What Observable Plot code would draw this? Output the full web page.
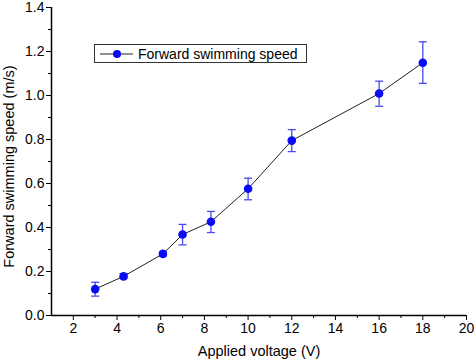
<!DOCTYPE html>
<html><head><meta charset="utf-8">
<script src="https://cdn.jsdelivr.net/npm/d3@7"></script>
<script src="https://cdn.jsdelivr.net/npm/@observablehq/plot@0.6"></script>
<style>
body{margin:0;background:#fff;font-family:"Liberation Sans",Arial,sans-serif}
#chart{position:relative;width:474px;height:361px}
#legend{position:absolute;left:94px;top:44px;width:211px;height:17px;border:1px solid #333;background:#fff;display:flex;align-items:center;font-size:14px;color:#000}
#legend svg{display:block;margin-left:5px;margin-right:4px}
</style>
</head><body><div id="chart"></div>
<script>
const voltage = [3, 4.3, 6.1, 7, 8.3, 10, 12, 16, 18];
const speed   = [0.12, 0.178, 0.28, 0.368, 0.426, 0.576, 0.795, 1.009, 1.149];
const errLow  = [0.088, 0.168, 0.27, 0.321, 0.377, 0.526, 0.745, 0.951, 1.055];
const errHigh = [0.151, 0.19, 0.29, 0.414, 0.473, 0.624, 0.845, 1.065, 1.244];
const xTicks = [2, 4, 6, 8, 10, 12, 14, 16, 18, 20];
const xMinor = [3, 5, 7, 9, 11, 13, 15, 17, 19];
const yTicks = [0, 0.2, 0.4, 0.6, 0.8, 1.0, 1.2, 1.4];
const yMinor = [0.1, 0.3, 0.5, 0.7, 0.9, 1.1, 1.3];
const legendLabel = "Forward swimming speed";

const data = voltage.map((v, i) => ({x: v, y: speed[i], lo: errLow[i], hi: errHigh[i]}));
const cap = {draw(ctx) { ctx.moveTo(-4, 0); ctx.lineTo(4, 0); }};
const errColor = "#4a4af0";
const dotColor = "#0a0af5";

const plot = Plot.plot({
  width: 474, height: 361,
  marginLeft: 51, marginRight: 8, marginTop: 7, marginBottom: 46,
  style: {fontFamily: "'Liberation Sans', Arial, sans-serif", fontSize: "14px", color: "#000", background: "#fff"},
  x: {domain: [1, 20]},
  y: {domain: [0, 1.4]},
  marks: [
    Plot.axisX({ticks: xTicks, tickSize: 5, tickPadding: 3, tickFormat: d => d, label: null, stroke: "#000"}),
    Plot.axisX({ticks: xMinor, tickSize: 3, tickFormat: () => "", label: null, stroke: "#000"}),
    Plot.axisY({ticks: yTicks, tickSize: 5, tickPadding: 2, tickFormat: d3.format(".1f"), label: null, stroke: "#000"}),
    Plot.axisY({ticks: yMinor, tickSize: 3, tickFormat: () => "", label: null, stroke: "#000"}),
    Plot.ruleX([1], {stroke: "#000", strokeWidth: 1.5}),
    Plot.ruleY([0], {stroke: "#000", strokeWidth: 1.5}),
    Plot.text(["Applied voltage (V)"], {frameAnchor: "bottom", dy: 40, fontSize: 14.5, text: d => d}),
    Plot.text(["Forward swimming speed (m/s)"], {frameAnchor: "left", dx: -42, dy: 5, rotate: -90, textAnchor: "middle", fontSize: 14.5, text: d => d}),
    Plot.ruleX(data, {x: "x", y1: "lo", y2: "hi", stroke: errColor, strokeWidth: 1.3}),
    Plot.dot(data, {x: "x", y: "lo", symbol: cap, stroke: errColor, strokeWidth: 1.3}),
    Plot.dot(data, {x: "x", y: "hi", symbol: cap, stroke: errColor, strokeWidth: 1.3}),
    Plot.line(data, {x: "x", y: "y", stroke: "#222", strokeWidth: 1}),
    Plot.dot(data, {x: "x", y: "y", r: 4.3, fill: dotColor, stroke: "none"})
  ]
});
const chart = document.getElementById("chart");
chart.appendChild(plot);
const lg = document.createElement("div");
lg.id = "legend";
lg.innerHTML = '<svg width="34" height="10"><line x1="0" y1="5" x2="33" y2="5" stroke="#222"/><circle cx="17" cy="5" r="4" fill="' + dotColor + '"/></svg><span></span>';
lg.querySelector("span").textContent = legendLabel;
chart.appendChild(lg);
</script>
</body></html>
